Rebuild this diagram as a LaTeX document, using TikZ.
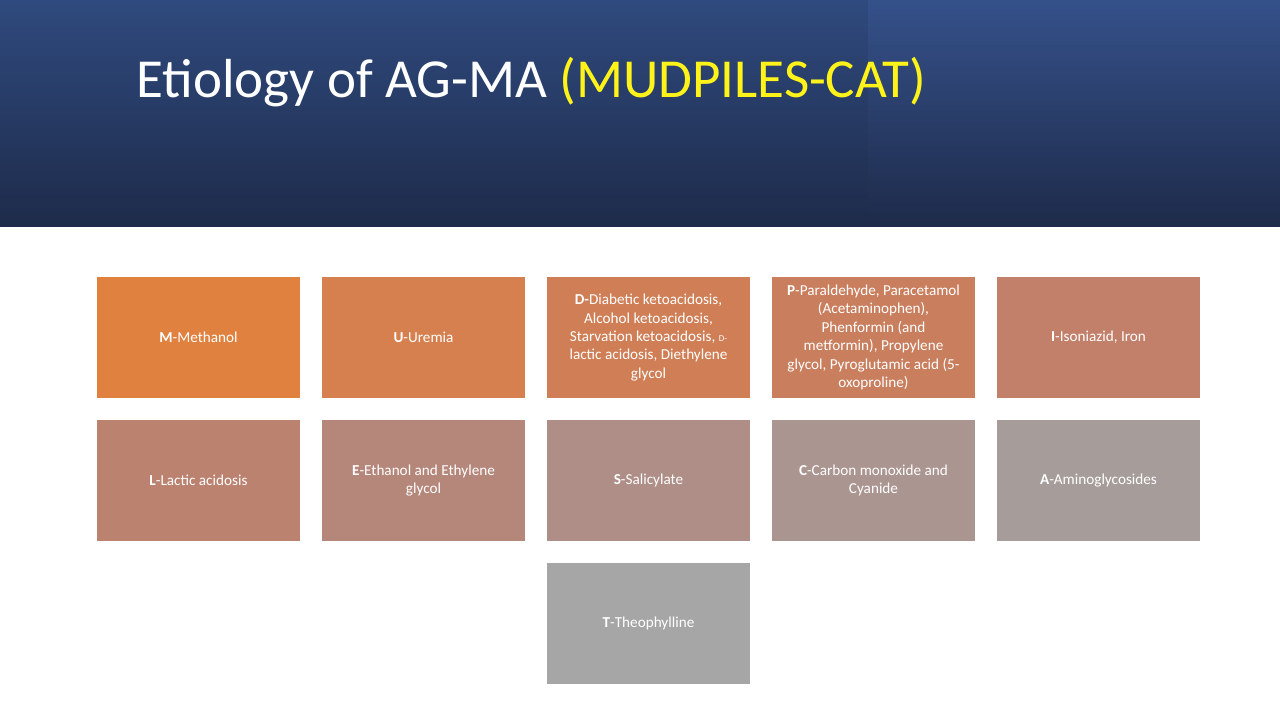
\documentclass[tikz,border=0pt]{standalone}
\usepackage{fontspec}
\setmainfont{Carlito}
\usetikzlibrary{positioning}
\definecolor{cm}{HTML}{E0813F}
\definecolor{cu}{HTML}{D5804E}
\definecolor{cd}{HTML}{D07E55}
\definecolor{cp}{HTML}{C97E5E}
\definecolor{ci}{HTML}{C27F69}
\definecolor{cl}{HTML}{BB8270}
\definecolor{ce}{HTML}{B5877B}
\definecolor{cs}{HTML}{AF8E87}
\definecolor{cc}{HTML}{AA9591}
\definecolor{ca}{HTML}{A69D9A}
\definecolor{ct}{HTML}{A6A6A6}
\definecolor{topblue}{HTML}{2F4A7E}
\definecolor{lowblue}{HTML}{1E2B4A}
\definecolor{paneltop}{HTML}{35518A}
\tikzset{
  letter/.style={rectangle, minimum width=101.5pt, minimum height=60.5pt,
    align=center, text=white, inner sep=0pt,
    font=\fontsize{7.6}{9.2}\selectfont},
}
\begin{document}
\begin{tikzpicture}[x=0.5pt,y=-0.5pt,node distance=112.5pt and 112.5pt,on grid]
\useasboundingbox (0,0) rectangle (1280,720);
\fill[white] (0,0) rectangle (1280,720);
% header
\shade[top color=topblue, bottom color=lowblue] (0,0) rectangle (868,226);
\shade[top color=paneltop, bottom color=lowblue] (868,0) rectangle (1280,226);
\node[anchor=west, text=white, font=\fontsize{27.5}{32}\selectfont, inner sep=0pt] (title) at (136,82)
  {Etiology of AG-MA \textcolor{yellow!90!white}{(MUDPILES-CAT)}};
% first row
\node[letter, fill=cm] (m) at (198.5,337.5) {\textbf{M}-Methanol};
\node[letter, fill=cu, right=of m] (u) {\textbf{U}-Uremia};
\node[letter, fill=cd, right=of u] (d) {\textbf{D-}Diabetic ketoacidosis,\\Alcohol ketoacidosis,\\Starvation ketoacidosis, {\fontsize{4.5}{5}\selectfont D-}\\lactic acidosis, Diethylene\\glycol};
\node[letter, fill=cp, right=of d] (p) {\textbf{P}-Paraldehyde, Paracetamol\\(Acetaminophen),\\Phenformin (and\\metformin), Propylene\\glycol, Pyroglutamic acid (5-\\oxoproline)};
\node[letter, fill=ci, right=of p] (i) {\textbf{I}-Isoniazid, Iron};
% second row
\node[letter, fill=cl, below=71.5pt of m] (l) {\textbf{L}-Lactic acidosis};
\node[letter, fill=ce, right=of l] (e) {\textbf{E}-Ethanol and Ethylene\\glycol};
\node[letter, fill=cs, right=of e] (s) {\textbf{S}-Salicylate};
\node[letter, fill=cc, right=of s] (c) {\textbf{C}-Carbon monoxide and\\Cyanide};
\node[letter, fill=ca, right=of c] (a) {\textbf{A}-Aminoglycosides};
% third row
\node[letter, fill=ct, below=71.5pt of s] (t) {\textbf{T}-Theophylline};
\end{tikzpicture}
\end{document}
